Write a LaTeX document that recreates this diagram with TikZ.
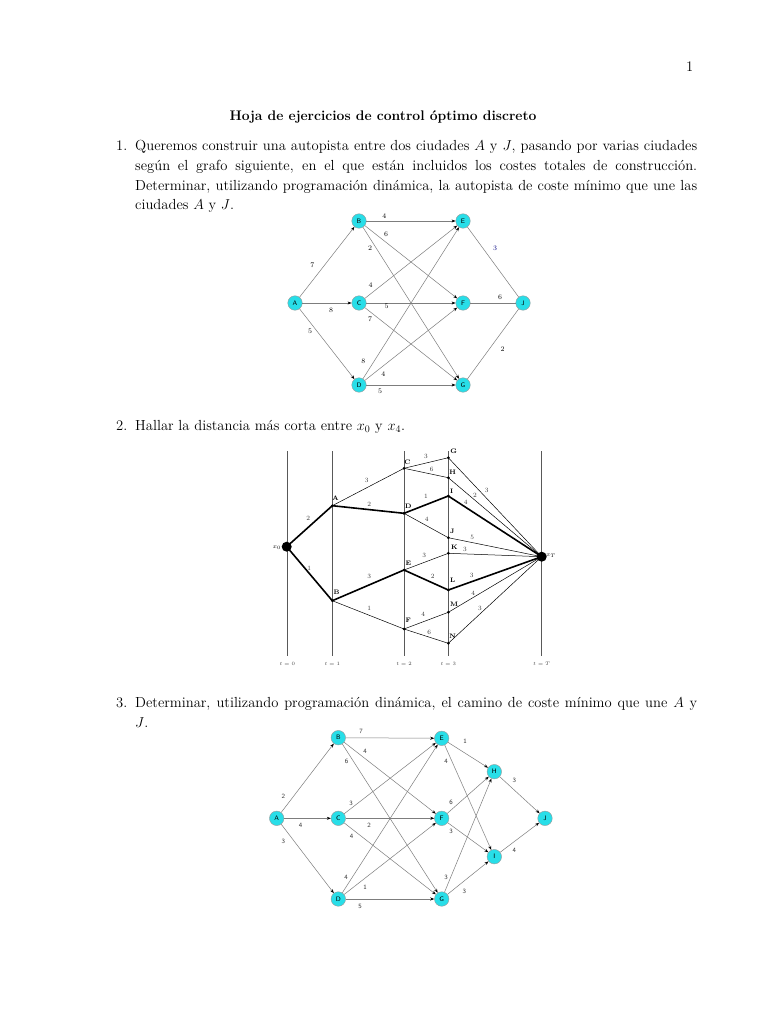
\documentclass[tikz,border=0pt]{standalone}
\usetikzlibrary{arrows.meta}
\definecolor{cyanfill}{RGB}{40,222,232}
\definecolor{edgegray}{RGB}{125,125,125}
\begin{document}
\begin{tikzpicture}[x=1pt,y=-1pt,
  body/.style={inner sep=0pt, anchor=base west, font=\fontsize{14.6}{17}\selectfont},
  cnode/.style={circle, draw=gray!80, fill=cyanfill, minimum size=14.5pt, inner sep=0pt, font=\sffamily\fontsize{6.5}{7}\selectfont},
  ge/.style={draw=edgegray, line width=0.5pt, -{Stealth[length=4pt,width=3pt,color=black]}},
  gn/.style={draw=edgegray, line width=0.5pt},
  wa/.style={inner sep=0pt, font=\fontsize{7}{8}\selectfont},
  wc/.style={inner sep=0pt, font=\sffamily\fontsize{6.5}{7}\selectfont, text=black!80},
  dot/.style={circle, fill=black, inner sep=0pt, minimum size=3pt},
  bigdot/.style={circle, fill=black, inner sep=0pt, minimum size=10pt},
  thinl/.style={line width=0.5pt},
  thickl/.style={line width=1.6pt},
  vline/.style={draw=black!65, line width=0.6pt},
  nl/.style={inner sep=0pt, font=\bfseries\fontsize{6.5}{7}\selectfont},
  wb/.style={inner sep=0pt, font=\fontsize{6.5}{7}\selectfont, text=black!80},
  tl/.style={inner sep=0pt, font=\fontsize{5.5}{6}\selectfont, text=black!75}
]
\fill[white] (0,0) rectangle (768,1024);
\useasboundingbox (0,0) rectangle (768,1024);

% page number and title
\node[body] at (686,72) {1};
\node[inner sep=0pt, anchor=base, font=\bfseries\fontsize{13.9}{16}\selectfont] (title) at (383,121) {Hoja de ejercicios de control óptimo discreto};

% exercise 1 text
\node[body] at (116,151) {1.};
\node[body] at (135,151) {\makebox[562pt][s]{Queremos construir una autopista entre dos ciudades $A$ y $J$, pasando por varias ciudades}};
\node[body] at (135,171) {\makebox[562pt][s]{según el grafo siguiente, en el que están incluidos los costes totales de construcción.}};
\node[body] at (135,191) {\makebox[562pt][s]{Determinar, utilizando programación dinámica, la autopista de coste mínimo que une las}};
\node[body] at (135,210) {ciudades $A$ y $J$.};

% ---------------- graph 1
\node[cnode] (a1) at (295,303) {A};
\node[cnode] (b1) at (359,221) {B};
\node[cnode] (c1) at (359,303) {C};
\node[cnode] (d1) at (359,385) {D};
\node[cnode] (e1) at (463,221) {E};
\node[cnode] (f1) at (463,303) {F};
\node[cnode] (g1) at (463,385) {G};
\node[cnode] (j1) at (523,303) {J};
\foreach \s/\t in {a1/b1,a1/c1,a1/d1,b1/e1,b1/f1,b1/g1,c1/e1,c1/f1,c1/g1,d1/e1,d1/f1,d1/g1}
  \draw[ge] (\s) -- (\t);
\foreach \s in {e1,f1,g1}
  \draw[gn] (\s) -- (j1);
\node[wa] at (384.3,215.7) {4};
\node[wa] at (386,234) {6};
\node[wa] at (370,247.7) {2};
\node[wa] at (312.3,265) {7};
\node[wa] at (370.7,285) {4};
\node[wa] at (331,310) {8};
\node[wa] at (386.7,306.7) {5};
\node[wa] at (370,319.3) {7};
\node[wa] at (310,331) {5};
\node[wa] at (363.3,361) {8};
\node[wa] at (383.3,374.3) {4};
\node[wa] at (380,391) {5};
\node[wa, text=blue!50!black] at (495,248.3) {3};
\node[wa] at (500,297) {6};
\node[wa] at (502.7,349) {2};

% exercise 2 text
\node[body] at (116,430) {2.};
\node[body] at (135,430) {Hallar la distancia más corta entre $x_0$ y $x_4$.};

% ---------------- graph 2
\foreach \x in {287.3,332.3,404,448.3,541.7}
  \draw[vline] (\x,451) -- (\x,656);
\node[tl] at (287.3,664) {$t=0$};
\node[tl] at (332.3,664) {$t=1$};
\node[tl] at (404,664) {$t=2$};
\node[tl] at (448.3,664) {$t=3$};
\node[tl] at (541.7,664) {$t=T$};

\node[bigdot] (x0) at (286.7,546.7) {};
\node[bigdot] (xT) at (541.7,556.7) {};
\node[dot] (A2) at (332.3,505.7) {};
\node[dot] (B2) at (332.3,600.7) {};
\node[dot] (C2) at (404,468.3) {};
\node[dot] (D2) at (404,513.3) {};
\node[dot] (E2) at (404,570) {};
\node[dot] (F2) at (404,629) {};
\node[dot] (G2) at (448.3,457.7) {};
\node[dot] (H2) at (448.3,477.7) {};
\node[dot] (I2) at (448.3,496) {};
\node[dot] (J2) at (448.3,537.7) {};
\node[dot] (K2) at (448.3,553.3) {};
\node[dot] (L2) at (448.3,590) {};
\node[dot] (M2) at (448.3,612.3) {};
\node[dot] (N2) at (448.3,643.3) {};

\draw[thickl] (x0.center) -- (A2.center);
\draw[thickl] (x0.center) -- (B2.center);
\draw[thinl] (A2.center) -- (C2.center);
\draw[thickl] (A2.center) -- (D2.center);
\draw[thickl] (B2.center) -- (E2.center);
\draw[thinl] (B2.center) -- (F2.center);
\draw[thinl] (C2.center) -- (G2.center);
\draw[thinl] (C2.center) -- (H2.center);
\draw[thickl] (D2.center) -- (I2.center);
\draw[thinl] (D2.center) -- (J2.center);
\draw[thinl] (E2.center) -- (K2.center);
\draw[thickl] (E2.center) -- (L2.center);
\draw[thinl] (F2.center) -- (M2.center);
\draw[thinl] (F2.center) -- (N2.center);
\foreach \s in {G2,H2,J2,K2,M2,N2}
  \draw[thinl] (\s.center) -- (xT.center);
\draw[thickl] (I2.center) -- (xT.center);
\draw[thickl] (L2.center) -- (xT.center);

\node[inner sep=0pt, font=\fontsize{6}{7}\selectfont] at (277,547.5) {$x_0$};
\node[inner sep=0pt, font=\fontsize{6}{7}\selectfont] at (551,556) {$x_T$};
\node[nl] at (335.5,498.7) {A};
\node[nl] at (336.5,592) {B};
\node[nl] at (407.5,462) {C};
\node[nl] at (408.3,506) {D};
\node[nl] at (408.3,563.3) {E};
\node[nl] at (408.3,620.5) {F};
\node[nl] at (453.7,451) {G};
\node[nl] at (452.7,472.3) {H};
\node[nl] at (451.7,491.7) {I};
\node[nl] at (452.3,531) {J};
\node[nl] at (454.3,547.7) {K};
\node[nl] at (452.7,580) {L};
\node[nl] at (454,604) {M};
\node[nl] at (452.7,636.7) {N};

\node[wb] at (308.3,518.3) {2};
\node[wb] at (309.3,568.3) {1};
\node[wb] at (366.7,480) {3};
\node[wb] at (369.3,504) {2};
\node[wb] at (369.3,576) {3};
\node[wb] at (369.3,608.3) {1};
\node[wb] at (426,456.7) {3};
\node[wb] at (431.7,469.3) {6};
\node[wb] at (426,496.7) {1};
\node[wb] at (426.7,519) {4};
\node[wb] at (424.3,555) {3};
\node[wb] at (432.7,576) {2};
\node[wb] at (423.3,614) {4};
\node[wb] at (429.3,632.7) {6};
\node[wb] at (486.7,490) {3};
\node[wb] at (475,495) {2};
\node[wb] at (465.7,502.3) {4};
\node[wb] at (472.3,537.3) {5};
\node[wb] at (465,549.3) {3};
\node[wb] at (471.7,575) {3};
\node[wb] at (473.3,593.3) {4};
\node[wb] at (480,608.3) {3};

% exercise 3 text
\node[body] at (116,707) {3.};
\node[body] at (135,707) {\makebox[562pt][s]{Determinar, utilizando programación dinámica, el camino de coste mínimo que une $A$ y}};
\node[body] at (135,727) {$J$.};

% ---------------- graph 3
\node[cnode] (a3) at (276.7,818.3) {A};
\node[cnode] (b3) at (338.3,737.7) {B};
\node[cnode] (c3) at (338.3,818.3) {C};
\node[cnode] (d3) at (338.3,899) {D};
\node[cnode] (e3) at (441.7,738.3) {E};
\node[cnode] (f3) at (441.7,818.3) {F};
\node[cnode] (g3) at (441.7,899) {G};
\node[cnode] (h3) at (494.3,771.7) {H};
\node[cnode] (i3) at (494.3,856.7) {I};
\node[cnode] (j3) at (545,818.3) {J};
\foreach \s/\t in {a3/b3,a3/c3,a3/d3,b3/e3,b3/f3,b3/g3,c3/e3,c3/f3,c3/g3,d3/e3,d3/f3,d3/g3,e3/h3,e3/i3,f3/h3,f3/i3,g3/h3,g3/i3,h3/j3,i3/j3}
  \draw[ge] (\s) -- (\t);
\node[wc] at (361,731.7) {7};
\node[wc] at (365,751) {4};
\node[wc] at (346.7,761) {6};
\node[wc] at (283.3,796.7) {2};
\node[wc] at (351,803.3) {3};
\node[wc] at (300.7,825) {4};
\node[wc] at (369,825) {2};
\node[wc] at (351.7,836) {4};
\node[wc] at (283.3,841) {3};
\node[wc] at (346,877.7) {4};
\node[wc] at (365,887.7) {1};
\node[wc] at (360,906.7) {5};
\node[wc] at (465,741.7) {1};
\node[wc] at (446,761) {4};
\node[wc] at (451,802.3) {6};
\node[wc] at (451,831) {3};
\node[wc] at (446,877.7) {3};
\node[wc] at (464.3,891.7) {3};
\node[wc] at (514.3,780) {3};
\node[wc] at (514.3,850) {4};
\end{tikzpicture}
\end{document}
